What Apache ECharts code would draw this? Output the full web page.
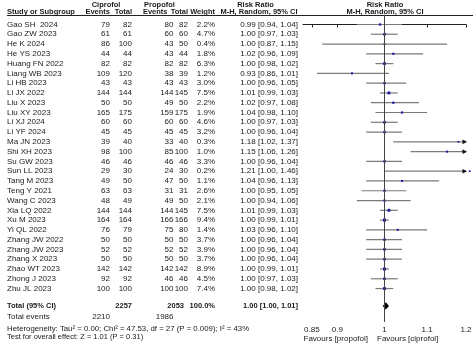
<!DOCTYPE html>
<html><head><meta charset="utf-8">
<script src="https://cdn.jsdelivr.net/npm/echarts@6/dist/echarts.min.js"></script>
<style>html,body{margin:0;padding:0;background:#fff}#c{width:474px;height:345px}</style>
</head><body><div id="c"></div>
<script>
const studies = ['Gao SH  2024','Gao ZW 2023','He K 2024','He YS 2023','Huang FN 2022','Liang WB 2023','Li HB 2023','Li JX 2022','Liu X 2023','Liu XY 2023','Li XJ 2024','Li YF 2024','Ma JN 2023','Shi XH 2023','Su GW 2023','Sun LL 2023','Tang M 2023','Teng Y 2021','Wang C 2023','Xia LQ 2022','Xu M 2023','Yi QL 2022','Zhang JW 2022','Zhang JW 2023','Zhang X 2023','Zhao WT 2023','Zhong J 2023','Zhu JL 2023'];
const cipEvents = [79,61,86,44,82,109,43,144,50,165,60,45,39,98,46,29,49,63,48,144,164,76,50,52,50,142,92,100];
const cipTotal  = [82,61,100,44,82,120,43,144,50,175,60,45,40,100,46,30,50,63,49,144,164,79,50,52,50,142,92,100];
const proEvents = [80,60,43,43,82,38,43,144,49,159,60,45,33,85,46,24,47,31,49,144,166,75,50,52,50,142,46,100];
const proTotal  = [82,60,50,44,82,39,43,145,50,175,60,45,40,100,46,30,50,31,50,145,166,80,50,52,50,142,46,100];
const weights   = [2.2,4.7,0.4,1.8,6.3,1.2,3.0,7.5,2.2,1.9,4.6,3.2,0.3,1.0,3.3,0.2,1.1,2.6,2.1,7.5,9.4,1.4,3.7,3.9,3.7,8.9,4.5,7.4];
const rr = [0.99,1.00,1.00,1.02,1.00,0.93,1.00,1.01,1.02,1.04,1.00,1.00,1.18,1.15,1.00,1.21,1.04,1.00,1.00,1.01,1.00,1.03,1.00,1.00,1.00,1.00,1.00,1.00];
const rrLow  = [0.94,0.97,0.87,0.96,0.98,0.86,0.96,0.99,0.97,0.98,0.97,0.96,1.02,1.06,0.96,1.00,0.96,0.95,0.94,0.99,0.99,0.96,0.96,0.96,0.96,0.99,0.97,0.98];
const rrHigh = [1.04,1.03,1.15,1.09,1.02,1.01,1.05,1.03,1.08,1.10,1.03,1.04,1.37,1.26,1.04,1.46,1.13,1.05,1.06,1.03,1.01,1.10,1.04,1.04,1.04,1.01,1.03,1.02];
const totalRR = [1.003, 0.996, 1.010];
const tickValues = [0.85, 0.9, 1, 1.1, 1.2];
const axisRange = [1/1.2, 1.2];
const heterogeneityText = 'Heterogeneity: Tau\u00b2 = 0.00; Chi\u00b2 = 47.53, df = 27 (P = 0.009); I\u00b2 = 43%';
const overallText = 'Test for overall effect: Z = 1.01 (P = 0.31)';

const FONT = '"Liberation Sans", Arial, Helvetica, sans-serif';
const TXT = '#1a1a1a';
const ln = Math.log;
const X_MIN = ln(axisRange[0]), X_MAX = ln(axisRange[1]);
const ROW_TOTAL = 28.78, ROW_EVENTS = 29.9, ROW_HET = 31.12, ROW_TEST = 31.98;
const COL = {study:7, cE:110, cT:132, pE:173.5, pT:188, pTtot:184, wt:215, ci:298};
const sum = a => a.reduce((s,v)=>s+v,0);
const fmtCI = (e,l,h) => e.toFixed(2)+' ['+l.toFixed(2)+', '+h.toFixed(2)+']';

function T(x, y, s, align, bold, size){
  return {type:'text', style:{x:x, y:y, text:s, fill:TXT, fontFamily:FONT,
    fontSize:size||8, fontWeight:bold?'bold':'normal', align:align||'left', verticalAlign:'middle'}};
}

const chart = echarts.init(document.getElementById('c'), null, {renderer:'canvas'});

const ciData = studies.map((s,i)=>[ln(rr[i]), ln(rrLow[i]), ln(rrHigh[i]), i, weights[i]]);
const tableData = studies.map((s,i)=>[X_MIN, i]);

chart.setOption({
  animation:false,
  grid:{left:303, right:8, top:14.7, bottom:23, containLabel:false, outerBoundsMode:'none'},
  xAxis:{type:'value', min:X_MIN, max:X_MAX,
    axisLine:{show:true, lineStyle:{color:'#222', width:1}},
    axisTick:{show:true, length:3, customValues:tickValues.map(ln), lineStyle:{color:'#222'}},
    axisLabel:{show:true, customValues:tickValues.map(ln), margin:4, color:TXT, fontSize:8, fontFamily:FONT,
      formatter:function(v){ for (const t of tickValues){ if (Math.abs(ln(t)-v)<1e-6) return String(t);} return ''; }},
    splitLine:{show:false}},
  yAxis:{type:'value', inverse:true, min:-1, max:30.42, show:false},
  series:[
    {type:'custom', clip:false, data:ciData, encode:{x:[0,1,2], y:3},
      renderItem:function(params, api){
        const e = api.value(0), l = api.value(1), h = api.value(2), i = api.value(3), w = api.value(4);
        const p0 = api.coord([Math.max(l, X_MIN), i]);
        const p1 = api.coord([Math.min(h, X_MAX), i]);
        const pc = api.coord([e, i]);
        const ch = [{type:'line', shape:{x1:p0[0], y1:p0[1], x2:p1[0], y2:p1[1]}, style:{stroke:'#7a7a7a', lineWidth:1.2}}];
        if (h > X_MAX) {
          ch.push({type:'polygon', shape:{points:[[p1[0]+1, p1[1]],[p1[0]-3.5, p1[1]-2.3],[p1[0]-3.5, p1[1]+2.3]]}, style:{fill:'#111'}});
        }
        const sz = 1.5 + 0.5*Math.sqrt(w);
        ch.push({type:'rect', shape:{x:pc[0]-sz/2, y:pc[1]-sz/2, width:sz, height:sz}, style:{fill:'#1c1ca8'}});
        return {type:'group', children:ch};
      },
      markLine:{silent:true, symbol:'none', label:{show:false}, lineStyle:{color:'#444', width:1, type:'solid'}, data:[{xAxis:0}]}
    },
    {type:'custom', clip:false, data:[[ln(totalRR[0]), ln(totalRR[1]), ln(totalRR[2]), ROW_TOTAL]], encode:{x:[0,1,2], y:3},
      renderItem:function(params, api){
        const e = api.coord([api.value(0), api.value(3)]);
        const l = api.coord([api.value(1), api.value(3)]);
        const h = api.coord([api.value(2), api.value(3)]);
        const d = 3.6;
        return {type:'polygon', shape:{points:[[l[0], l[1]],[e[0], e[1]-d],[h[0], h[1]],[e[0], e[1]+d]]}, style:{fill:'#000'}};
      }
    },
    {type:'custom', clip:false, data:tableData, encode:{x:0, y:1},
      renderItem:function(params, api){
        const i = params.dataIndex;
        const y = api.coord([X_MIN, api.value(1)])[1];
        return {type:'group', children:[
          T(COL.study, y, studies[i], 'left'),
          T(COL.cE, y, String(cipEvents[i]), 'right'),
          T(COL.cT, y, String(cipTotal[i]), 'right'),
          T(COL.pE, y, String(proEvents[i]), 'right'),
          T(COL.pT, y, String(proTotal[i]), 'right'),
          T(COL.wt, y, weights[i].toFixed(1)+'%', 'right'),
          T(COL.ci, y, fmtCI(rr[i], rrLow[i], rrHigh[i]), 'right')
        ]};
      }
    },
    {type:'custom', clip:false, data:[[X_MIN, ROW_TOTAL],[X_MIN, ROW_EVENTS],[X_MIN, ROW_HET],[X_MIN, ROW_TEST]], encode:{x:0, y:1},
      renderItem:function(params, api){
        const y = api.coord([X_MIN, api.value(1)])[1];
        const k = params.dataIndex;
        if (k === 0) return {type:'group', children:[
          T(COL.study, y, 'Total (95% CI)', 'left', true, 7.5),
          T(COL.cT, y, String(sum(cipTotal)), 'right', true, 7.5),
          T(COL.pTtot, y, String(sum(proTotal)), 'right', true, 7.5),
          T(COL.wt, y, sum(weights).toFixed(1)+'%', 'right', true, 7.5),
          T(COL.ci, y, fmtCI(totalRR[0], totalRR[1], totalRR[2]), 'right', true, 7.5)
        ]};
        if (k === 1) return {type:'group', children:[
          T(COL.study, y, 'Total events', 'left'),
          T(COL.cE, y, String(sum(cipEvents)), 'right'),
          T(COL.pE, y, String(sum(proEvents)), 'right')
        ]};
        if (k === 2) return T(COL.study, y, heterogeneityText, 'left', false, 7.8);
        return T(COL.study, y, overallText, 'left', false, 7.5);
      }
    }
  ],
  graphic:[
    {type:'line', shape:{x1:7, y1:15.5, x2:473, y2:15.5}, style:{stroke:'#222', lineWidth:1}, silent:true},
    T(106, 4.5, 'Ciprofol', 'center', true, 7.5),
    T(159.5, 4.5, 'Propofol', 'center', true, 7.5),
    T(255.5, 4.5, 'Risk Ratio', 'center', true, 7.5),
    T(385, 4.5, 'Risk Ratio', 'center', true, 7.5),
    T(7, 11.5, 'Study or Subgroup', 'left', true, 7.5),
    T(110, 11.5, 'Events', 'right', true, 7.5),
    T(132, 11.5, 'Total', 'right', true, 7.5),
    T(167.5, 11.5, 'Events', 'right', true, 7.5),
    T(188, 11.5, 'Total', 'right', true, 7.5),
    T(215, 11.5, 'Weight', 'right', true, 7.5),
    T(259, 11.5, 'M-H, Random, 95% CI', 'center', true, 7.5),
    T(385, 11.5, 'M-H, Random, 95% CI', 'center', true, 7.5),
    T(368, 338.5, 'Favours [propofol]', 'right'),
    T(377, 338.5, 'Favours [ciprofol]', 'left')
  ]
});
</script></body></html>
